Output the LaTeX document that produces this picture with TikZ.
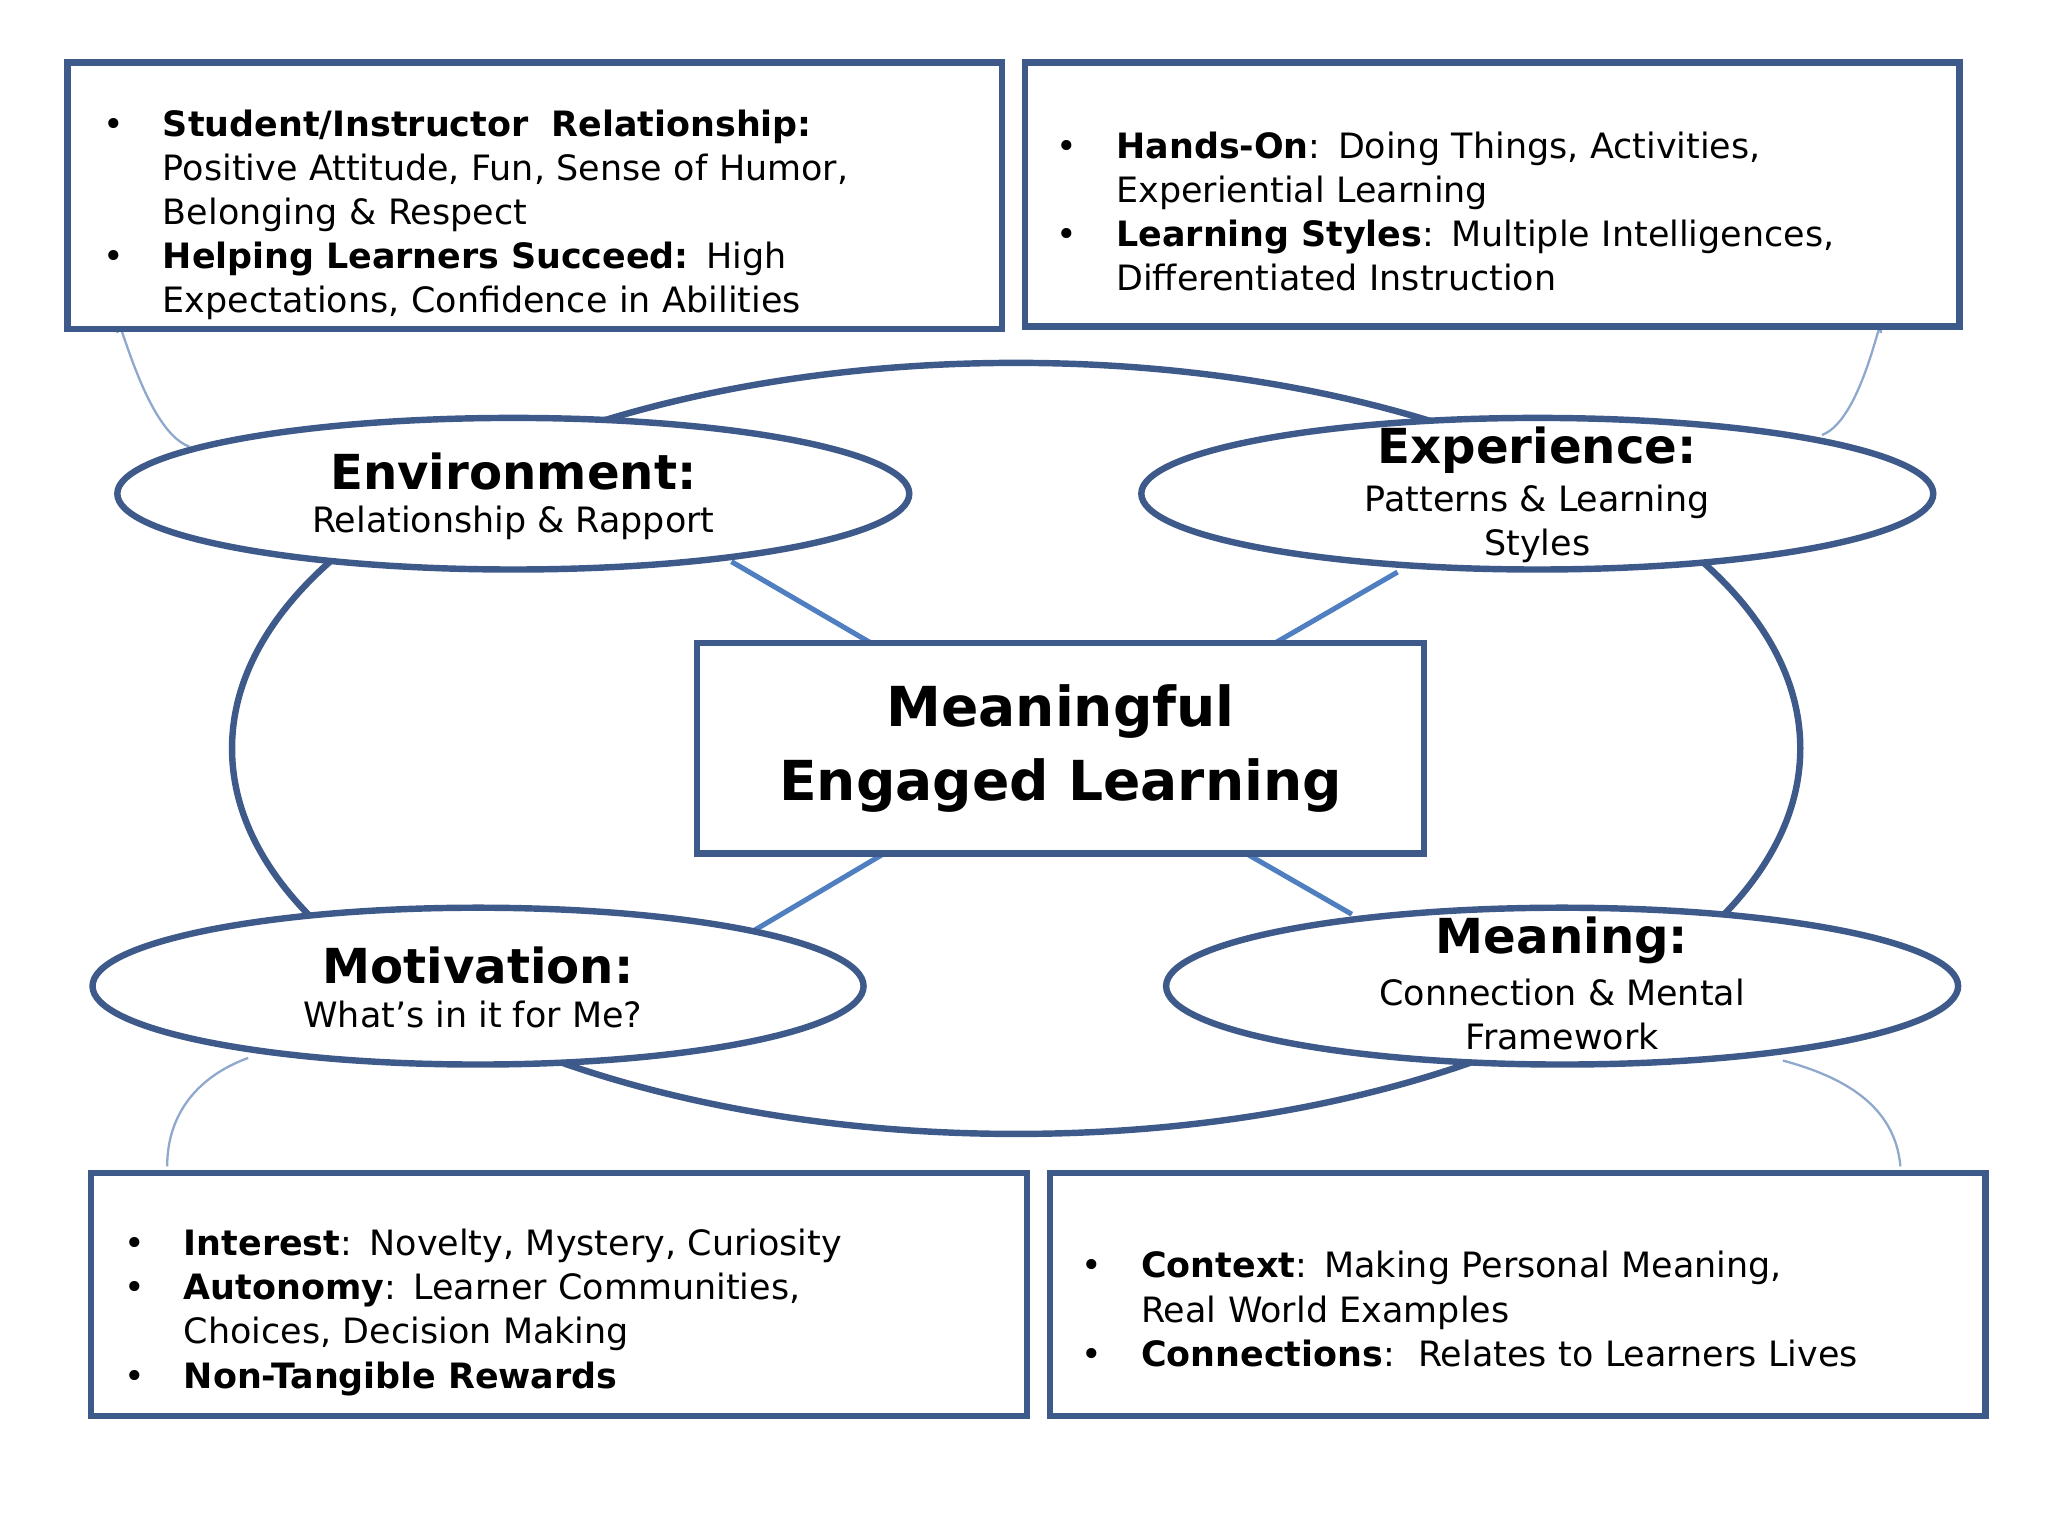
\documentclass[tikz,border=0pt]{standalone}
\usepackage{fontspec}
\setmainfont{DejaVu Sans}
\usepackage{enumitem}
\usetikzlibrary{shapes.geometric}
\definecolor{dk}{HTML}{3E5A8A}
\definecolor{lt}{HTML}{8FA8CC}
\definecolor{conn}{HTML}{4F7FC0}
\begin{document}
\begin{tikzpicture}[x=0.01cm,y=-0.01cm,
  box/.style={draw=dk,line width=1.4pt,fill=white,rectangle,inner sep=0},
  ell/.style={draw=dk,line width=1.4pt,fill=white,ellipse,inner sep=0},
  txt/.style={anchor=north west,inner sep=0,text width=#1,font=\fontsize{7.6}{9.6}\selectfont,align=left},
  etitle/.style={font=\fontsize{10.5}{12}\bfseries\selectfont,align=center,inner sep=0},
  esub/.style={font=\fontsize{7.6}{9.6}\selectfont,align=center,inner sep=0},
  lk/.style={draw=conn,line width=1.1pt},
  thin/.style={draw=lt,line width=0.5pt}]
\useasboundingbox (0,0) rectangle (1568,1176);
\setlist[itemize]{nosep,leftmargin=0.62cm,labelsep=0.3cm,label=\textbullet}
% thin arcs
\coordinate (a1) at (90,255); \coordinate (a2) at (145,342);
\coordinate (b1) at (1440,255); \coordinate (b2) at (1395,333);
\coordinate (c1) at (190,810); \coordinate (c2) at (128,893);
\coordinate (d1) at (1365,812); \coordinate (d2) at (1455,893);
\draw[thin] (a1) to[out=95,in=160] (a2);
\draw[thin] (b1) to[out=85,in=20] (b2);
\draw[thin] (c1) to[out=200,in=90] (c2);
\draw[thin] (d1) to[out=-15,in=95] (d2);
% big ellipse
\node[ell,fill=none,minimum width=12cm,minimum height=5.9cm] (big) at (778,573) {};
% connectors
\coordinate (e1) at (560,430); \coordinate (e2) at (668,493);
\coordinate (x1) at (1070,438); \coordinate (x2) at (975,493);
\coordinate (m1) at (578,712); \coordinate (m2) at (676,654);
\coordinate (n1) at (1035,700); \coordinate (n2) at (955,654);
\draw[lk] (e1) -- (e2); \draw[lk] (x1) -- (x2);
\draw[lk] (m1) -- (m2); \draw[lk] (n1) -- (n2);
\node[box,minimum width=5.56cm,minimum height=1.61cm] (c) at (812,573) {};
\node[font=\fontsize{12}{16}\bfseries\selectfont,align=center] (ct) at (812,573) {Meaningful\\Engaged Learning};
\node[ell,minimum width=6.06cm,minimum height=1.16cm] (env) at (393,378) {};
\node[ell,minimum width=6.06cm,minimum height=1.16cm] (exp) at (1177,378) {};
\node[ell,minimum width=5.9cm,minimum height=1.2cm] (mot) at (366,755) {};
\node[ell,minimum width=6.06cm,minimum height=1.2cm] (mea) at (1196,755) {};
\node[etitle] (envt) at (393,361) {Environment:};
\node[esub] (envs) at (393,400) {Relationship \& Rapport};
\node[etitle] (expt) at (1177,345) {Experience:};
\node[esub] (exps) at (1177,401) {Patterns \& Learning\\Styles};
\node[etitle] (mott) at (366,739) {Motivation:};
\node[esub] (mots) at (362,777) {What's in it for Me?};
\node[etitle] (meat) at (1196,720) {Meaning:};
\node[esub] (meas) at (1196,777) {Connection \& Mental\\Framework};
% boxes
\node[box,minimum width=7.15cm,minimum height=2.04cm] (tl) at (409.5,150) {};
\node[box,minimum width=7.15cm,minimum height=2.02cm] (tr) at (1142.5,149) {};
\node[box,minimum width=7.16cm,minimum height=1.86cm] (bl) at (428,991) {};
\node[box,minimum width=7.16cm,minimum height=1.86cm] (br) at (1162,991) {};
\node[txt=6.9cm] (tlt) at (62,70) {\begin{itemize}
\item \textbf{Student/Instructor\ \ Relationship:}\newline Positive Attitude, Fun, Sense of Humor,\newline Belonging \& Respect
\item \textbf{Helping Learners Succeed:} High\newline Expectations, Confidence in Abilities
\end{itemize}};
\node[txt=6.9cm] (trt) at (792,87) {\begin{itemize}
\item \textbf{Hands-On}: Doing Things, Activities,\newline Experiential Learning
\item \textbf{Learning Styles}: Multiple Intelligences,\newline Differentiated Instruction
\end{itemize}};
\node[txt=6.9cm] (blt) at (78,927) {\begin{itemize}
\item \textbf{Interest}: Novelty, Mystery, Curiosity
\item \textbf{Autonomy}: Learner Communities,\newline Choices, Decision Making
\item \textbf{Non-Tangible Rewards}
\end{itemize}};
\node[txt=6.9cm] (brt) at (811,944) {\begin{itemize}
\item \textbf{Context}: Making Personal Meaning,\newline Real World Examples
\item \textbf{Connections}:\ \ Relates to Learners Lives
\end{itemize}};
\end{tikzpicture}
\end{document}
